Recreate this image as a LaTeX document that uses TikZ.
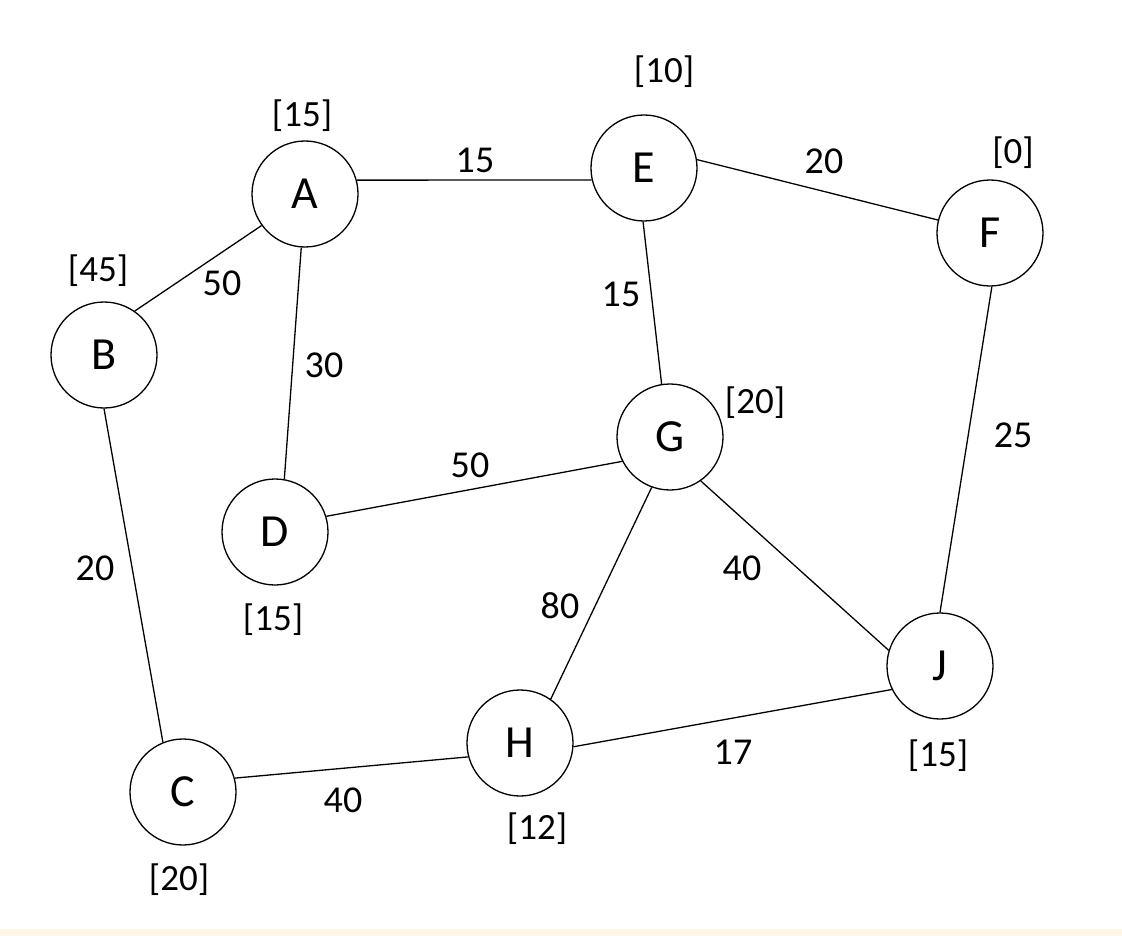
\documentclass[tikz,border=0pt]{standalone}
\usepackage{fontspec}
\setmainfont{Carlito}
\definecolor{stripbeige}{HTML}{FEF6E7}
\begin{document}
\begin{tikzpicture}[x=1pt,y=-1pt,
  vert/.style={circle,draw=black,line width=1.3pt,minimum size=106pt,inner sep=0pt,
    font=\fontsize{46}{50}\selectfont},
  wlab/.style={inner sep=0pt,font=\fontsize{38}{40}\selectfont},
  blab/.style={inner sep=0pt,font=\fontsize{37}{40}\selectfont},
  edge/.style={draw=black,line width=1.3pt}]
\useasboundingbox (0,0) rectangle (1122,936);
\fill[stripbeige] (0,929) rectangle (1122,936);
% vertices
\node[vert] (A) at (305,194) {A};
\node[vert] (E) at (644,168) {E};
\node[vert] (F) at (990,233) {F};
\node[vert] (B) at (104,355) {B};
\node[vert] (G) at (670,437) {G};
\node[vert] (D) at (275,532) {D};
\node[vert] (J) at (940,666) {J};
\node[vert] (H) at (520,743) {H};
\node[vert] (C) at (183,792) {C};
% bracket labels
\node[blab] (lA) at (302,116) {[15]};
\node[blab] (lE) at (664,72) {[10]};
\node[blab] (lF) at (1013,153) {[0]};
\node[blab] (lB) at (98,271) {[45]};
\node[blab] (lG) at (755,403) {[20]};
\node[blab] (lD) at (273,620) {[15]};
\node[blab] (lJ) at (938,756) {[15]};
\node[blab] (lH) at (537,829) {[12]};
\node[blab] (lC) at (179,880) {[20]};
% edges
\path[edge] (A.15) -- (E.193);
\path[edge] (E.9) -- (F.166);
\path[edge] (E.269) -- (G.99);
\path[edge] (A.216) -- (B.55);
\path[edge] (A.266) -- (D.80);
\path[edge] (B.270) -- (C.112);
\path[edge] (D.17) -- (G.207);
\path[edge] (G.250) -- (H.55);
\path[edge] (G.305) -- (J.163);
\path[edge] (F.272) -- (J.90);
\path[edge] (H.356) -- (J.206);
\path[edge] (C.15) -- (H.195);
% weights
\node[wlab] (wAE) at (475,160) {15};
\node[wlab] (wEF) at (824,161) {20};
\node[wlab] (wEG) at (621,294) {15};
\node[wlab] (wAB) at (222,283) {50};
\node[wlab] (wAD) at (324,365) {30};
\node[wlab] (wFJ) at (1013,435) {25};
\node[wlab] (wDG) at (470,465) {50};
\node[wlab] (wGJ) at (742,568) {40};
\node[wlab] (wGH) at (560,606) {80};
\node[wlab] (wBC) at (95,568) {20};
\node[wlab] (wCH) at (343,800) {40};
\node[wlab] (wHJ) at (733,752) {17};
\end{tikzpicture}
\end{document}
